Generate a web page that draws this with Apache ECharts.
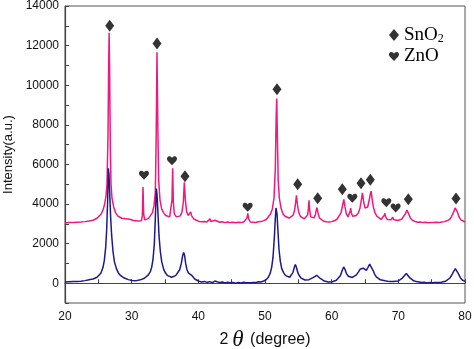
<!DOCTYPE html>
<html>
<head>
<meta charset="utf-8">
<style>
  html, body { margin: 0; padding: 0; background: #fff; }
  #chart { width: 474px; height: 349px; }
</style>
<script src="https://cdn.jsdelivr.net/npm/echarts@6/dist/echarts.min.js"></script>
</head>
<body>
<div id="chart"></div>
<script>
// 2theta (deg), intensity (a.u.) - upper pattern (pink), offset ~3000
const upperPattern = [
  [20,3040],[20.3,3000],[20.6,3060],[20.9,3020],[21.2,3070],[21.5,3030],[21.8,3080],[22.1,3050],[22.4,3090],[22.7,3070],
  [23.0,3110],[23.3,3090],[23.6,3140],[23.9,3130],[24.2,3180],[24.5,3220],[24.8,3280],[25.1,3350],[25.4,3480],[25.7,3700],
  [25.95,4000],[26.15,4400],[26.3,5000],[26.45,7500],[26.55,11000],[26.62,12650],[26.7,10500],[26.8,6800],[26.9,5000],[27.05,4300],
  [27.3,3850],[27.6,3550],[27.9,3400],[28.2,3300],[28.5,3280],[28.8,3230],[29.1,3260],[29.4,3200],[29.7,3230],[30.0,3150],
  [30.3,3170],[30.6,3120],[30.9,3140],[31.2,3110],[31.45,3150],[31.6,3400],[31.7,4860],[31.8,3500],[31.95,3200],[32.2,3180],
  [32.5,3260],[32.8,3350],[33.1,3550],[33.35,3900],[33.55,4600],[33.68,7500],[33.8,11670],[33.92,8000],[34.05,5200],[34.25,4200],
  [34.5,3750],[34.8,3550],[35.1,3420],[35.4,3380],[35.7,3350],[35.95,3450],[36.05,4200],[36.15,5800],[36.25,4100],[36.4,3500],
  [36.7,3350],[37.0,3330],[37.3,3400],[37.55,3600],[37.75,4100],[37.9,5100],[38.05,4200],[38.25,3600],[38.5,3420],[38.7,3450],
  [38.85,3600],[39.0,3400],[39.3,3250],[39.7,3180],[40.1,3120],[40.5,3100],[40.9,3120],[41.3,3090],[41.6,3150],[41.75,3260],
  [41.9,3120],[42.2,3090],[42.5,3180],[42.65,3240],[42.8,3120],[43.2,3080],[43.6,3100],[44.0,3060],[44.4,3090],[44.8,3060],
  [45.2,3080],[45.6,3050],[46.0,3080],[46.4,3060],[46.8,3090],[47.1,3100],[47.3,3300],[47.42,3530],[47.55,3250],[47.8,3090],
  [48.2,3080],[48.6,3070],[49.0,3100],[49.4,3110],[49.8,3160],[50.2,3220],[50.5,3320],[50.8,3480],[51.1,3750],[51.35,4300],
  [51.55,5800],[51.68,8500],[51.76,9330],[51.85,7500],[51.98,5200],[52.15,4300],[52.4,3800],[52.7,3500],[53.0,3380],[53.3,3300],
  [53.6,3290],[53.9,3320],[54.2,3420],[54.45,3700],[54.6,4100],[54.72,4440],[54.85,4000],[55.05,3600],[55.3,3380],[55.6,3280],
  [55.9,3250],[56.2,3300],[56.4,3450],[56.52,3800],[56.6,4190],[56.7,3700],[56.85,3350],[57.1,3280],[57.35,3300],[57.55,3450],
  [57.7,3700],[57.8,3820],[57.95,3550],[58.15,3300],[58.4,3200],[58.8,3130],[59.2,3100],[59.6,3090],[60.0,3110],[60.4,3150],
  [60.8,3230],[61.1,3330],[61.4,3550],[61.65,3950],[61.82,4230],[62.0,3850],[62.2,3500],[62.45,3350],[62.65,3400],[62.78,3650],
  [62.85,3790],[62.95,3550],[63.15,3380],[63.4,3350],[63.7,3420],[64.0,3550],[64.25,3800],[64.45,4200],[64.62,4560],[64.8,4100],
  [65.0,3800],[65.2,3720],[65.4,3850],[65.6,4150],[65.8,4500],[65.92,4650],[66.05,4300],[66.25,3850],[66.5,3550],[66.8,3380],
  [67.1,3280],[67.4,3220],[67.7,3250],[67.88,3420],[67.98,3530],[68.1,3350],[68.35,3220],[68.6,3180],[68.9,3200],[69.05,3280],
  [69.15,3330],[69.3,3220],[69.6,3160],[69.9,3170],[70.2,3180],[70.5,3230],[70.8,3330],[71.05,3500],[71.3,3690],[71.55,3500],
  [71.8,3300],[72.1,3180],[72.5,3120],[72.9,3080],[73.3,3090],[73.7,3060],[74.1,3080],[74.5,3050],[74.9,3070],[75.3,3060],
  [75.7,3080],[76.1,3060],[76.5,3090],[76.9,3110],[77.3,3150],[77.7,3220],[78.0,3380],[78.3,3600],[78.52,3800],[78.65,3850],
  [78.85,3600],[79.1,3350],[79.4,3200],[79.7,3130],[80.0,3090]
];

// lower pattern (navy)
const lowerPattern = [
  [20,60],[20.3,20],[20.6,70],[20.9,30],[21.2,80],[21.5,40],[21.8,90],[22.1,50],[22.4,100],[22.7,80],
  [23.0,130],[23.3,110],[23.6,170],[23.9,150],[24.2,210],[24.5,230],[24.8,300],[25.1,380],[25.4,520],[25.7,800],
  [25.9,1150],[26.1,1800],[26.25,2700],[26.4,4200],[26.5,5800],[26.6,5500],[26.7,4600],[26.85,3300],[27.0,2400],[27.2,1600],
  [27.4,1100],[27.7,750],[28.0,520],[28.3,400],[28.6,330],[28.9,260],[29.2,240],[29.5,180],[29.8,200],[30.1,140],
  [30.4,170],[30.7,130],[31.0,180],[31.3,170],[31.6,230],[31.9,250],[32.2,330],[32.5,420],[32.8,580],[33.0,800],
  [33.2,1200],[33.4,2000],[33.55,3300],[33.7,4780],[33.8,4500],[33.95,3500],[34.1,2400],[34.3,1600],[34.5,1100],[34.8,700],
  [35.1,500],[35.4,380],[35.7,330],[36.0,300],[36.3,320],[36.6,380],[36.9,480],[37.2,680],[37.45,1000],[37.65,1400],
  [37.8,1550],[37.95,1380],[38.1,1000],[38.3,680],[38.5,520],[38.7,480],[38.8,500],[39.0,400],[39.2,300],[39.5,200],
  [39.8,140],[40.1,100],[40.5,60],[40.9,90],[41.3,40],[41.7,80],[42.1,30],[42.5,110],[42.8,60],[43.2,30],
  [43.6,60],[44.0,10],[44.4,50],[44.8,20],[45.2,40],[45.6,0],[46.0,30],[46.4,10],[46.8,50],[47.2,20],
  [47.5,60],[47.8,20],[48.2,40],[48.6,30],[49.0,70],[49.4,60],[49.8,110],[50.2,180],[50.5,300],[50.8,520],
  [51.0,800],[51.2,1300],[51.4,2300],[51.55,3300],[51.65,3800],[51.8,3500],[51.95,2600],[52.1,1700],[52.3,1100],[52.5,750],
  [52.8,520],[53.1,380],[53.4,320],[53.7,300],[54.0,380],[54.2,550],[54.4,800],[54.55,940],[54.7,820],[54.9,560],
  [55.1,400],[55.4,260],[55.7,200],[56.0,160],[56.3,150],[56.6,180],[56.9,210],[57.2,280],[57.5,350],[57.75,400],
  [58.0,350],[58.3,240],[58.6,150],[58.9,110],[59.2,90],[59.5,60],[59.8,80],[60.1,70],[60.4,110],[60.7,150],
  [61.0,220],[61.3,380],[61.55,620],[61.8,820],[62.0,700],[62.2,500],[62.5,350],[62.8,300],[63.1,290],[63.4,350],
  [63.7,420],[64.0,560],[64.3,720],[64.55,820],[64.75,760],[65.0,680],[65.2,650],[65.45,800],[65.7,960],[65.85,1030],
  [66.0,880],[66.2,650],[66.45,450],[66.7,320],[67.0,230],[67.3,170],[67.6,140],[68.0,120],[68.4,100],[68.8,90],
  [69.2,80],[69.6,100],[70.0,110],[70.3,170],[70.6,260],[70.9,380],[71.2,490],[71.45,420],[71.7,280],[72.0,180],
  [72.3,120],[72.7,80],[73.1,60],[73.5,30],[73.9,50],[74.3,10],[74.7,40],[75.1,20],[75.5,30],[75.9,40],
  [76.3,30],[76.7,70],[77.1,100],[77.4,150],[77.7,250],[78.0,400],[78.3,600],[78.55,740],[78.8,640],[79.0,480],
  [79.3,280],[79.6,160],[80.0,90]
];

// peak markers [2theta, y position]
const sno2Peaks = [
  [26.7,13000],[33.8,12100],[38.0,5400],[51.8,9800],[54.9,5000],[57.9,4290],
  [61.6,4750],[64.4,5050],[65.8,5220],[71.5,4240],[78.65,4280]
];
const znoPeaks = [
  [31.85,5450],[36.05,6180],[47.4,3840],[63.1,4290],[68.2,4060],[69.6,3800]
];

const xTickLabels = [20, 30, 40, 50, 60, 70, 80];
const yTickLabels = [0, 2000, 4000, 6000, 8000, 10000, 12000, 14000];

const heartPath = 'path://M50,92 L12,52 C-4,34 4,8 26,8 C38,8 46,16 50,24 C54,16 62,8 74,8 C96,8 104,34 88,52 Z';

const chart = echarts.init(document.getElementById('chart'));

const axisFont = { fontFamily: 'Liberation Sans', fontSize: 12, color: '#111' };

chart.setOption({
  animation: false,
  grid: {
    left: 65, right: 9, top: 6, bottom: 46,
    outerBoundsMode: 'none',
    show: true, borderColor: '#555', borderWidth: 1
  },
  legend: {
    data: ['SnO2', 'ZnO'],
    orient: 'vertical',
    left: 384,
    top: 20,
    itemWidth: 10,
    itemHeight: 12,
    itemGap: 2,
    formatter: (name) => name === 'SnO2' ? '{m|SnO}{s|2}' : '{m|ZnO}',
    textStyle: {
      color: '#000',
      rich: {
        m: { fontFamily: 'Liberation Serif', fontSize: 19, lineHeight: 19 },
        s: { fontFamily: 'Liberation Serif', fontSize: 12, lineHeight: 19, padding: [8, 0, 0, 0] }
      }
    }
  },
  xAxis: {
    type: 'value',
    min: 20, max: 80, interval: 5,
    name: '{a|2}{t|θ}{a| (degree)}',
    nameLocation: 'middle',
    nameGap: 25,
    nameTextStyle: {
      rich: {
        a: { fontFamily: 'Liberation Sans', fontSize: 16, color: '#111' },
        t: { fontFamily: 'Liberation Serif', fontStyle: 'italic', fontSize: 23, color: '#111', padding: [0, 2, 0, 4] }
      }
    },
    axisLine: { lineStyle: { color: '#444', width: 1.2 } },
    axisTick: { inside: true, length: 4, lineStyle: { color: '#444' } },
    axisLabel: {
      ...axisFont,
      margin: 8,
      formatter: (v) => xTickLabels.includes(v) ? String(v) : ''
    },
    splitLine: { show: false }
  },
  yAxis: {
    type: 'value',
    min: -1000, max: 14000, interval: 1000,
    name: 'Intensity(a.u.)',
    nameLocation: 'middle',
    nameGap: 50,
    nameTextStyle: { fontFamily: 'Liberation Sans', fontSize: 13, color: '#111' },
    axisLine: { show: true, lineStyle: { color: '#444', width: 1.2 } },
    axisTick: { show: true, inside: true, length: 4, lineStyle: { color: '#444' } },
    axisLabel: {
      ...axisFont,
      margin: 6,
      formatter: (v) => yTickLabels.includes(v) ? String(v) : ''
    },
    splitLine: { show: false }
  },
  series: [
    {
      name: 'upper', type: 'line', data: upperPattern, symbol: 'none',
      lineStyle: { color: '#f0187e', width: 1.5 }, z: 2
    },
    {
      name: 'lower', type: 'line', data: lowerPattern, symbol: 'none',
      lineStyle: { color: '#1c1a8a', width: 1.5 }, z: 2
    },
    {
      name: 'SnO2', type: 'scatter', data: sno2Peaks,
      symbol: 'diamond', symbolSize: [9, 12],
      itemStyle: { color: '#000' }, z: 5
    },
    {
      name: 'ZnO', type: 'scatter', data: znoPeaks,
      symbol: heartPath, symbolSize: [10, 9],
      itemStyle: { color: '#000' }, z: 5
    }
  ]
});
</script>
</body>
</html>
